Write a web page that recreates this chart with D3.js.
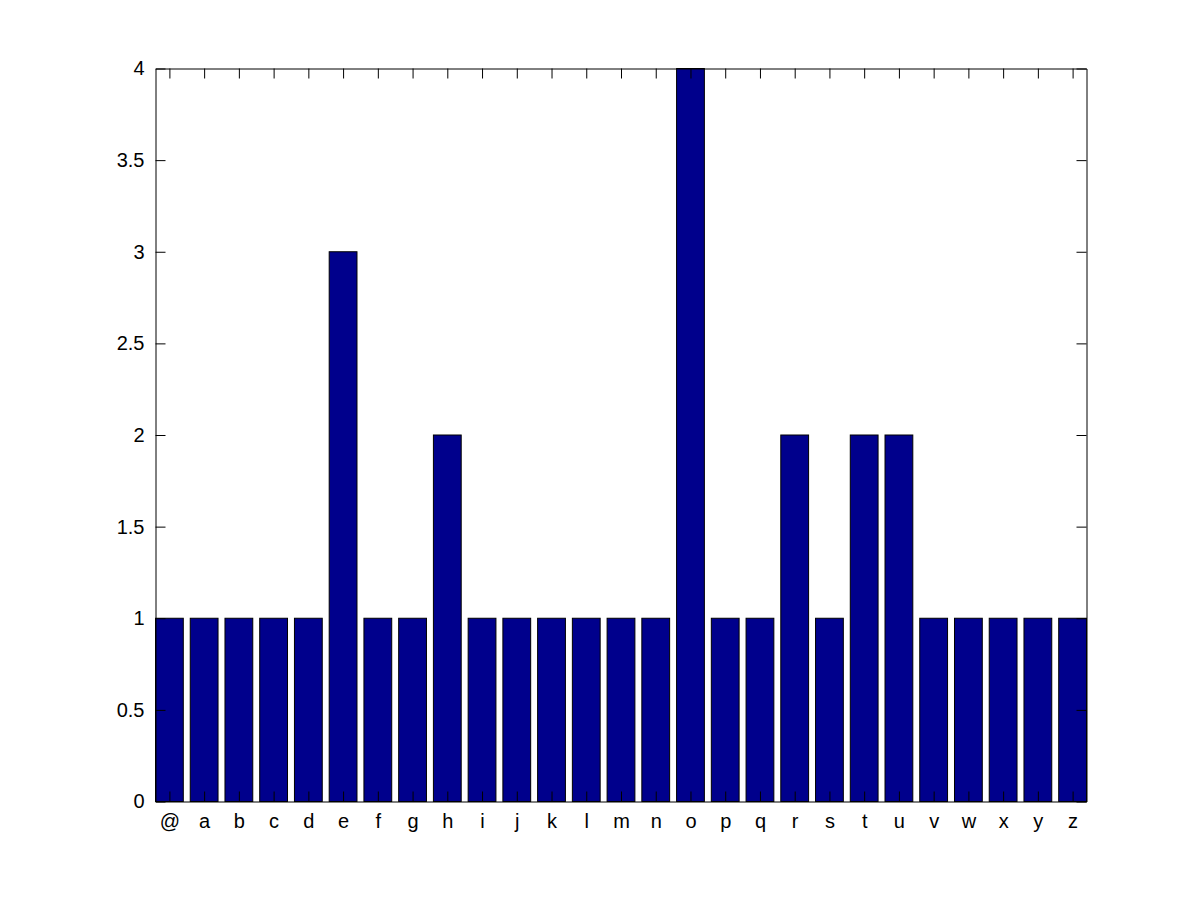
<!DOCTYPE html>
<html>
<head>
<meta charset="utf-8">
<script src="https://cdn.jsdelivr.net/npm/d3@7"></script>
<style>
body { margin: 0; background: #fff; }
text { font-family: "Liberation Sans", Arial, sans-serif; }
</style>
</head>
<body>
<div id="chart-area"></div>
<script>
// ** Data **
var letters = ["@","a","b","c","d","e","f","g","h","i","j","k","l","m",
	"n","o","p","q","r","s","t","u","v","w","x","y","z"];
var counts = [1,1,1,1,1,3,1,1,2,1,1,1,1,1,1,4,1,1,2,1,2,2,1,1,1,1,1];
var yTicks = [0, 0.5, 1, 1.5, 2, 2.5, 3, 3.5, 4];

// ** Dimensions **
var margin = { left: 155.5, right: 113.5, top: 68.5, bottom: 98.5 };
var width = 1200 - margin.left - margin.right;
var height = 900 - margin.top - margin.bottom;
var barColor = "#00008c";
var tickLen = 10;
var fontSize = 20;

var svg = d3.select("#chart-area")
	.append("svg")
	.attr("width", 1200)
	.attr("height", 900);
var g = svg.append("g")
	.attr("transform", "translate(" + margin.left + ", " + margin.top + ")");

// Scales (MATLAB-style limits: 0.6 .. n+0.4)
var x = d3.scaleLinear()
	.domain([0.6, letters.length + 0.4])
	.range([0, width]);
var y = d3.scaleLinear()
	.domain([0, 4])
	.range([height, 0]);
var barW = x(1.8) - x(1);

// Bars
g.selectAll("rect.bar")
	.data(counts)
	.enter()
	.append("rect")
	.attr("class", "bar")
	.attr("x", function(d, i){ return x(i + 1) - barW / 2; })
	.attr("y", function(d){ return y(d); })
	.attr("width", barW)
	.attr("height", function(d){ return y(0) - y(d); })
	.attr("fill", barColor)
	.attr("stroke", "#000")
	.attr("stroke-width", 1);

// Axes: ticks point inward, boxed on all sides
var xIdx = letters.map(function(d, i){ return i + 1; });

var xBottom = d3.axisBottom(x)
	.tickValues(xIdx)
	.tickSizeInner(-tickLen)
	.tickSizeOuter(0)
	.tickPadding(12)
	.tickFormat(function(d){ return letters[d - 1]; });
g.append("g")
	.attr("transform", "translate(0, " + height + ")")
	.call(xBottom);

var xTop = d3.axisTop(x)
	.tickValues(xIdx)
	.tickSizeInner(-tickLen)
	.tickSizeOuter(0)
	.tickFormat("");
g.append("g").call(xTop);

var yLeft = d3.axisLeft(y)
	.tickValues(yTicks)
	.tickSizeInner(-tickLen)
	.tickSizeOuter(0)
	.tickPadding(11)
	.tickFormat(function(d){ return +d; });
g.append("g").call(yLeft);

var yRight = d3.axisRight(y)
	.tickValues(yTicks)
	.tickSizeInner(-tickLen)
	.tickSizeOuter(0)
	.tickFormat("");
g.append("g")
	.attr("transform", "translate(" + width + ", 0)")
	.call(yRight);

g.selectAll(".tick text")
	.attr("font-size", fontSize)
	.attr("font-family", "'Liberation Sans', Arial, sans-serif")
	.attr("fill", "#000");
g.selectAll(".domain, .tick line").attr("stroke", "#000");
</script>
</body>
</html>
